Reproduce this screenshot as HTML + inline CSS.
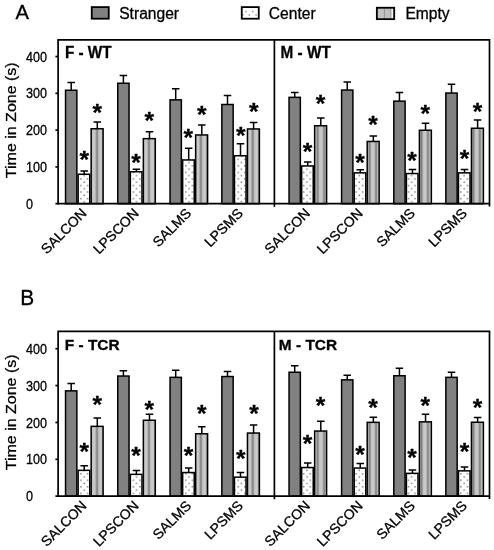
<!DOCTYPE html>
<html><head><meta charset="utf-8"><title>Figure</title>
<style>html,body{margin:0;padding:0;background:#fff}svg{display:block}text{font-family:"Liberation Sans", Arial, sans-serif;fill:#000;stroke:#000;stroke-width:0.3px;stroke-linejoin:round}</style></head><body>
<svg width="494" height="550" viewBox="0 0 494 550">
<defs>
<pattern id="dots" x="80.2" y="191.3" width="6.55" height="6.55" patternUnits="userSpaceOnUse">
<rect width="6.55" height="6.55" fill="#fff"/>
<rect x="0" y="0" width="1.5" height="1.5" fill="#848484"/>
<rect x="3.27" y="3.27" width="1.5" height="1.5" fill="#848484"/>
</pattern>
<pattern id="emp" x="-1.75" y="0" width="6.49" height="40" patternUnits="userSpaceOnUse">
<rect width="6.49" height="40" fill="#c3c3c3"/>
<rect x="0" y="0" width="2.8" height="40" fill="#aeaeae"/>
<rect x="0.45" y="0" width="1.9" height="40" fill="#909090"/>
<rect x="0.9" y="0" width="1.0" height="40" fill="#808080"/>
<rect x="4.2" y="0" width="1.2" height="40" fill="#cdcdcd"/>
</pattern>
<linearGradient id="emp2" x1="0" x2="1" y1="0" y2="0">
<stop offset="0" stop-color="#c6c6c6"/><stop offset="0.38" stop-color="#c0c0c0"/>
<stop offset="0.43" stop-color="#8c8c8c"/><stop offset="0.48" stop-color="#c0c0c0"/>
<stop offset="0.76" stop-color="#c0c0c0"/>
<stop offset="0.81" stop-color="#8c8c8c"/><stop offset="0.86" stop-color="#f0f0f0"/><stop offset="0.92" stop-color="#f0f0f0"/><stop offset="1" stop-color="#c6c6c6"/>
</linearGradient>
</defs>
<rect width="494" height="550" fill="#fff"/>
<rect x="91.75" y="7.1" width="17.0" height="11.6" fill="#818181"/>
<rect x="91.75" y="7.1" width="17.0" height="11.6" fill="none" stroke="#000" stroke-width="1.8"/>
<text transform="translate(119.20 19.20)" font-size="15.6">Stranger</text>
<rect x="241.75" y="7.1" width="17.0" height="11.6" fill="#fff"/>
<rect x="245.30" y="10.90" width="1.4" height="1.4" fill="#8c8c8c"/><rect x="252.10" y="10.90" width="1.4" height="1.4" fill="#8c8c8c"/><rect x="248.60" y="14.30" width="1.4" height="1.4" fill="#8c8c8c"/><rect x="255.40" y="14.30" width="1.4" height="1.4" fill="#8c8c8c"/><rect x="242.00" y="14.30" width="1.4" height="1.4" fill="#8c8c8c"/>
<rect x="241.75" y="7.1" width="17.0" height="11.6" fill="none" stroke="#000" stroke-width="1.8"/>
<text transform="translate(268.80 19.20)" font-size="15.6">Center</text>
<rect x="376.85" y="7.75" width="17.35" height="11.4" fill="url(#emp2)"/>
<rect x="376.85" y="7.75" width="17.35" height="11.4" fill="none" stroke="#000" stroke-width="1.8"/>
<text transform="translate(405.40 19.20)" font-size="15.6">Empty</text>
<text transform="translate(15.60 18.90) scale(0.97 1)" font-size="20.8">A</text>
<text transform="translate(20.20 305.00) scale(0.97 1)" font-size="21.6">B</text>
<path d="M71.20 90.25V82.50M67.45 82.50H74.95" stroke="#000" stroke-width="1.5" fill="none"/>
<rect x="65.55" y="90.25" width="11.30" height="113.45" fill="#818181" stroke="#000" stroke-width="1.5"/>
<path d="M84.20 174.25V171.00M80.45 171.00H87.95" stroke="#000" stroke-width="1.5" fill="none"/>
<rect x="78.15" y="174.25" width="11.60" height="29.45" fill="url(#dots)" stroke="#000" stroke-width="1.5"/>
<path d="M97.30 128.75V122.10M93.55 122.10H101.05" stroke="#000" stroke-width="1.5" fill="none"/>
<rect x="91.15" y="128.75" width="11.95" height="74.95" fill="url(#emp)" stroke="#000" stroke-width="1.5"/>
<text transform="translate(84.20 168.00)" font-size="24.5" font-weight="bold" text-anchor="middle">*</text>
<text transform="translate(97.35 121.00)" font-size="24.5" font-weight="bold" text-anchor="middle">*</text>
<path d="M123.40 83.25V75.50M119.65 75.50H127.15" stroke="#000" stroke-width="1.5" fill="none"/>
<rect x="117.75" y="83.25" width="11.30" height="120.45" fill="#818181" stroke="#000" stroke-width="1.5"/>
<path d="M136.40 171.75V169.20M132.65 169.20H140.15" stroke="#000" stroke-width="1.5" fill="none"/>
<rect x="130.35" y="171.75" width="11.60" height="31.95" fill="url(#dots)" stroke="#000" stroke-width="1.5"/>
<path d="M149.50 138.65V131.80M145.75 131.80H153.25" stroke="#000" stroke-width="1.5" fill="none"/>
<rect x="143.35" y="138.65" width="11.95" height="65.05" fill="url(#emp)" stroke="#000" stroke-width="1.5"/>
<text transform="translate(136.00 171.00)" font-size="24.5" font-weight="bold" text-anchor="middle">*</text>
<text transform="translate(149.20 129.00)" font-size="24.5" font-weight="bold" text-anchor="middle">*</text>
<path d="M175.70 99.85V88.80M171.95 88.80H179.45" stroke="#000" stroke-width="1.5" fill="none"/>
<rect x="170.05" y="99.85" width="11.30" height="103.85" fill="#818181" stroke="#000" stroke-width="1.5"/>
<path d="M188.70 159.95V148.30M184.95 148.30H192.45" stroke="#000" stroke-width="1.5" fill="none"/>
<rect x="182.65" y="159.95" width="11.60" height="43.75" fill="url(#dots)" stroke="#000" stroke-width="1.5"/>
<path d="M201.80 134.95V124.90M198.05 124.90H205.55" stroke="#000" stroke-width="1.5" fill="none"/>
<rect x="195.65" y="134.95" width="11.95" height="68.75" fill="url(#emp)" stroke="#000" stroke-width="1.5"/>
<text transform="translate(188.35 146.00)" font-size="24.5" font-weight="bold" text-anchor="middle">*</text>
<text transform="translate(201.70 123.00)" font-size="24.5" font-weight="bold" text-anchor="middle">*</text>
<path d="M227.50 104.50V95.40M223.75 95.40H231.25" stroke="#000" stroke-width="1.5" fill="none"/>
<rect x="221.85" y="104.50" width="11.30" height="99.20" fill="#818181" stroke="#000" stroke-width="1.5"/>
<path d="M240.50 155.75V143.70M236.75 143.70H244.25" stroke="#000" stroke-width="1.5" fill="none"/>
<rect x="234.45" y="155.75" width="11.60" height="47.95" fill="url(#dots)" stroke="#000" stroke-width="1.5"/>
<path d="M253.60 128.95V122.60M249.85 122.60H257.35" stroke="#000" stroke-width="1.5" fill="none"/>
<rect x="247.45" y="128.95" width="11.95" height="74.75" fill="url(#emp)" stroke="#000" stroke-width="1.5"/>
<text transform="translate(240.65 144.00)" font-size="24.5" font-weight="bold" text-anchor="middle">*</text>
<text transform="translate(253.80 120.00)" font-size="24.5" font-weight="bold" text-anchor="middle">*</text>
<path d="M294.70 97.35V92.50M290.95 92.50H298.45" stroke="#000" stroke-width="1.5" fill="none"/>
<rect x="289.05" y="97.35" width="11.30" height="106.35" fill="#818181" stroke="#000" stroke-width="1.5"/>
<path d="M307.70 165.95V161.90M303.95 161.90H311.45" stroke="#000" stroke-width="1.5" fill="none"/>
<rect x="301.65" y="165.95" width="11.60" height="37.75" fill="url(#dots)" stroke="#000" stroke-width="1.5"/>
<path d="M320.80 125.75V118.10M317.05 118.10H324.55" stroke="#000" stroke-width="1.5" fill="none"/>
<rect x="314.65" y="125.75" width="11.95" height="77.95" fill="url(#emp)" stroke="#000" stroke-width="1.5"/>
<text transform="translate(307.40 160.00)" font-size="24.5" font-weight="bold" text-anchor="middle">*</text>
<text transform="translate(320.60 112.00)" font-size="24.5" font-weight="bold" text-anchor="middle">*</text>
<path d="M347.25 90.05V81.90M343.50 81.90H351.00" stroke="#000" stroke-width="1.5" fill="none"/>
<rect x="341.60" y="90.05" width="11.30" height="113.65" fill="#818181" stroke="#000" stroke-width="1.5"/>
<path d="M360.25 172.85V169.70M356.50 169.70H364.00" stroke="#000" stroke-width="1.5" fill="none"/>
<rect x="354.20" y="172.85" width="11.60" height="30.85" fill="url(#dots)" stroke="#000" stroke-width="1.5"/>
<path d="M373.35 141.45V135.90M369.60 135.90H377.10" stroke="#000" stroke-width="1.5" fill="none"/>
<rect x="367.20" y="141.45" width="11.95" height="62.25" fill="url(#emp)" stroke="#000" stroke-width="1.5"/>
<text transform="translate(359.90 171.00)" font-size="24.5" font-weight="bold" text-anchor="middle">*</text>
<text transform="translate(372.90 133.00)" font-size="24.5" font-weight="bold" text-anchor="middle">*</text>
<path d="M399.45 101.15V92.50M395.70 92.50H403.20" stroke="#000" stroke-width="1.5" fill="none"/>
<rect x="393.80" y="101.15" width="11.30" height="102.55" fill="#818181" stroke="#000" stroke-width="1.5"/>
<path d="M412.45 173.55V169.60M408.70 169.60H416.20" stroke="#000" stroke-width="1.5" fill="none"/>
<rect x="406.40" y="173.55" width="11.60" height="30.15" fill="url(#dots)" stroke="#000" stroke-width="1.5"/>
<path d="M425.55 130.25V123.20M421.80 123.20H429.30" stroke="#000" stroke-width="1.5" fill="none"/>
<rect x="419.40" y="130.25" width="11.95" height="73.45" fill="url(#emp)" stroke="#000" stroke-width="1.5"/>
<text transform="translate(412.00 169.00)" font-size="24.5" font-weight="bold" text-anchor="middle">*</text>
<text transform="translate(425.20 122.00)" font-size="24.5" font-weight="bold" text-anchor="middle">*</text>
<path d="M451.50 93.05V84.30M447.75 84.30H455.25" stroke="#000" stroke-width="1.5" fill="none"/>
<rect x="445.85" y="93.05" width="11.30" height="110.65" fill="#818181" stroke="#000" stroke-width="1.5"/>
<path d="M464.50 172.85V169.50M460.75 169.50H468.25" stroke="#000" stroke-width="1.5" fill="none"/>
<rect x="458.45" y="172.85" width="11.60" height="30.85" fill="url(#dots)" stroke="#000" stroke-width="1.5"/>
<path d="M477.60 128.25V120.10M473.85 120.10H481.35" stroke="#000" stroke-width="1.5" fill="none"/>
<rect x="471.45" y="128.25" width="11.95" height="75.45" fill="url(#emp)" stroke="#000" stroke-width="1.5"/>
<text transform="translate(464.40 167.00)" font-size="24.5" font-weight="bold" text-anchor="middle">*</text>
<text transform="translate(477.50 120.00)" font-size="24.5" font-weight="bold" text-anchor="middle">*</text>
<path d="M58.1 203.7V39.8H489.5V205.6M274.4 39.8V205.89999999999998" stroke="#000" stroke-width="1.7" fill="none" stroke-linecap="square"/>
<path d="M55.4 203.7H489.5" stroke="#000" stroke-width="1.7" fill="none"/>
<path d="M55.4 166.91H58.1" stroke="#000" stroke-width="1.7"/>
<path d="M55.4 130.12H58.1" stroke="#000" stroke-width="1.7"/>
<path d="M55.4 93.33H58.1" stroke="#000" stroke-width="1.7"/>
<path d="M55.4 56.54H58.1" stroke="#000" stroke-width="1.7"/>
<text transform="translate(26.00 208.85) scale(0.9 1)" font-size="14.0">0</text>
<text transform="translate(47.00 172.06) scale(0.9 1)" font-size="14.0" text-anchor="end">100</text>
<text transform="translate(47.00 135.27) scale(0.9 1)" font-size="14.0" text-anchor="end">200</text>
<text transform="translate(47.00 98.48) scale(0.9 1)" font-size="14.0" text-anchor="end">300</text>
<text transform="translate(47.00 61.69) scale(0.9 1)" font-size="14.0" text-anchor="end">400</text>
<text transform="translate(16.30 120.25) rotate(-90) scale(1 0.92)" font-size="16.0" text-anchor="middle">Time in Zone (s)</text>
<text transform="translate(64.90 58.00) scale(0.94 1)" font-size="16.3" font-weight="bold">F - WT</text>
<text transform="translate(280.60 58.00) scale(0.94 1)" font-size="16.3" font-weight="bold">M - WT</text>
<text transform="translate(87.50 214.10) rotate(-45)" font-size="14.0" text-anchor="end">SALCON</text>
<text transform="translate(139.70 214.10) rotate(-45)" font-size="14.0" text-anchor="end">LPSCON</text>
<text transform="translate(192.00 214.10) rotate(-45)" font-size="14.0" text-anchor="end">SALMS</text>
<text transform="translate(243.80 214.10) rotate(-45)" font-size="14.0" text-anchor="end">LPSMS</text>
<text transform="translate(311.00 214.10) rotate(-45)" font-size="14.0" text-anchor="end">SALCON</text>
<text transform="translate(363.55 214.10) rotate(-45)" font-size="14.0" text-anchor="end">LPSCON</text>
<text transform="translate(415.75 214.10) rotate(-45)" font-size="14.0" text-anchor="end">SALMS</text>
<text transform="translate(467.80 214.10) rotate(-45)" font-size="14.0" text-anchor="end">LPSMS</text>
<path d="M71.20 390.85V383.50M67.45 383.50H74.95" stroke="#000" stroke-width="1.5" fill="none"/>
<rect x="65.55" y="390.85" width="11.30" height="105.35" fill="#818181" stroke="#000" stroke-width="1.5"/>
<path d="M84.20 470.35V465.80M80.45 465.80H87.95" stroke="#000" stroke-width="1.5" fill="none"/>
<rect x="78.15" y="470.35" width="11.60" height="25.85" fill="url(#dots)" stroke="#000" stroke-width="1.5"/>
<path d="M97.30 426.35V418.10M93.55 418.10H101.05" stroke="#000" stroke-width="1.5" fill="none"/>
<rect x="91.15" y="426.35" width="11.95" height="69.85" fill="url(#emp)" stroke="#000" stroke-width="1.5"/>
<text transform="translate(84.20 460.00)" font-size="24.5" font-weight="bold" text-anchor="middle">*</text>
<text transform="translate(97.20 413.00)" font-size="24.5" font-weight="bold" text-anchor="middle">*</text>
<path d="M123.40 376.05V370.70M119.65 370.70H127.15" stroke="#000" stroke-width="1.5" fill="none"/>
<rect x="117.75" y="376.05" width="11.30" height="120.15" fill="#818181" stroke="#000" stroke-width="1.5"/>
<path d="M136.40 474.35V470.40M132.65 470.40H140.15" stroke="#000" stroke-width="1.5" fill="none"/>
<rect x="130.35" y="474.35" width="11.60" height="21.85" fill="url(#dots)" stroke="#000" stroke-width="1.5"/>
<path d="M149.50 420.25V414.20M145.75 414.20H153.25" stroke="#000" stroke-width="1.5" fill="none"/>
<rect x="143.35" y="420.25" width="11.95" height="75.95" fill="url(#emp)" stroke="#000" stroke-width="1.5"/>
<text transform="translate(135.90 464.00)" font-size="24.5" font-weight="bold" text-anchor="middle">*</text>
<text transform="translate(149.20 418.00)" font-size="24.5" font-weight="bold" text-anchor="middle">*</text>
<path d="M175.70 377.35V370.20M171.95 370.20H179.45" stroke="#000" stroke-width="1.5" fill="none"/>
<rect x="170.05" y="377.35" width="11.30" height="118.85" fill="#818181" stroke="#000" stroke-width="1.5"/>
<path d="M188.70 472.55V468.00M184.95 468.00H192.45" stroke="#000" stroke-width="1.5" fill="none"/>
<rect x="182.65" y="472.55" width="11.60" height="23.65" fill="url(#dots)" stroke="#000" stroke-width="1.5"/>
<path d="M201.80 433.75V426.70M198.05 426.70H205.55" stroke="#000" stroke-width="1.5" fill="none"/>
<rect x="195.65" y="433.75" width="11.95" height="62.45" fill="url(#emp)" stroke="#000" stroke-width="1.5"/>
<text transform="translate(188.50 464.00)" font-size="24.5" font-weight="bold" text-anchor="middle">*</text>
<text transform="translate(201.80 422.00)" font-size="24.5" font-weight="bold" text-anchor="middle">*</text>
<path d="M227.50 376.55V371.50M223.75 371.50H231.25" stroke="#000" stroke-width="1.5" fill="none"/>
<rect x="221.85" y="376.55" width="11.30" height="119.65" fill="#818181" stroke="#000" stroke-width="1.5"/>
<path d="M240.50 477.15V472.50M236.75 472.50H244.25" stroke="#000" stroke-width="1.5" fill="none"/>
<rect x="234.45" y="477.15" width="11.60" height="19.05" fill="url(#dots)" stroke="#000" stroke-width="1.5"/>
<path d="M253.60 433.05V424.90M249.85 424.90H257.35" stroke="#000" stroke-width="1.5" fill="none"/>
<rect x="247.45" y="433.05" width="11.95" height="63.15" fill="url(#emp)" stroke="#000" stroke-width="1.5"/>
<text transform="translate(240.80 467.00)" font-size="24.5" font-weight="bold" text-anchor="middle">*</text>
<text transform="translate(254.10 422.00)" font-size="24.5" font-weight="bold" text-anchor="middle">*</text>
<path d="M294.70 372.25V365.70M290.95 365.70H298.45" stroke="#000" stroke-width="1.5" fill="none"/>
<rect x="289.05" y="372.25" width="11.30" height="123.95" fill="#818181" stroke="#000" stroke-width="1.5"/>
<path d="M307.70 467.55V463.10M303.95 463.10H311.45" stroke="#000" stroke-width="1.5" fill="none"/>
<rect x="301.65" y="467.55" width="11.60" height="28.65" fill="url(#dots)" stroke="#000" stroke-width="1.5"/>
<path d="M320.80 431.05V421.20M317.05 421.20H324.55" stroke="#000" stroke-width="1.5" fill="none"/>
<rect x="314.65" y="431.05" width="11.95" height="65.15" fill="url(#emp)" stroke="#000" stroke-width="1.5"/>
<text transform="translate(307.40 452.00)" font-size="24.5" font-weight="bold" text-anchor="middle">*</text>
<text transform="translate(320.60 414.00)" font-size="24.5" font-weight="bold" text-anchor="middle">*</text>
<path d="M347.25 379.85V375.20M343.50 375.20H351.00" stroke="#000" stroke-width="1.5" fill="none"/>
<rect x="341.60" y="379.85" width="11.30" height="116.35" fill="#818181" stroke="#000" stroke-width="1.5"/>
<path d="M360.25 468.05V463.60M356.50 463.60H364.00" stroke="#000" stroke-width="1.5" fill="none"/>
<rect x="354.20" y="468.05" width="11.60" height="28.15" fill="url(#dots)" stroke="#000" stroke-width="1.5"/>
<path d="M373.35 422.35V417.20M369.60 417.20H377.10" stroke="#000" stroke-width="1.5" fill="none"/>
<rect x="367.20" y="422.35" width="11.95" height="73.85" fill="url(#emp)" stroke="#000" stroke-width="1.5"/>
<text transform="translate(359.90 463.00)" font-size="24.5" font-weight="bold" text-anchor="middle">*</text>
<text transform="translate(372.90 416.00)" font-size="24.5" font-weight="bold" text-anchor="middle">*</text>
<path d="M399.45 375.75V368.20M395.70 368.20H403.20" stroke="#000" stroke-width="1.5" fill="none"/>
<rect x="393.80" y="375.75" width="11.30" height="120.45" fill="#818181" stroke="#000" stroke-width="1.5"/>
<path d="M412.45 473.35V470.00M408.70 470.00H416.20" stroke="#000" stroke-width="1.5" fill="none"/>
<rect x="406.40" y="473.35" width="11.60" height="22.85" fill="url(#dots)" stroke="#000" stroke-width="1.5"/>
<path d="M425.55 421.85V414.30M421.80 414.30H429.30" stroke="#000" stroke-width="1.5" fill="none"/>
<rect x="419.40" y="421.85" width="11.95" height="74.35" fill="url(#emp)" stroke="#000" stroke-width="1.5"/>
<text transform="translate(412.00 466.00)" font-size="24.5" font-weight="bold" text-anchor="middle">*</text>
<text transform="translate(425.20 414.00)" font-size="24.5" font-weight="bold" text-anchor="middle">*</text>
<path d="M451.50 377.35V372.20M447.75 372.20H455.25" stroke="#000" stroke-width="1.5" fill="none"/>
<rect x="445.85" y="377.35" width="11.30" height="118.85" fill="#818181" stroke="#000" stroke-width="1.5"/>
<path d="M464.50 470.85V467.00M460.75 467.00H468.25" stroke="#000" stroke-width="1.5" fill="none"/>
<rect x="458.45" y="470.85" width="11.60" height="25.35" fill="url(#dots)" stroke="#000" stroke-width="1.5"/>
<path d="M477.60 422.25V417.40M473.85 417.40H481.35" stroke="#000" stroke-width="1.5" fill="none"/>
<rect x="471.45" y="422.25" width="11.95" height="73.95" fill="url(#emp)" stroke="#000" stroke-width="1.5"/>
<text transform="translate(464.40 460.00)" font-size="24.5" font-weight="bold" text-anchor="middle">*</text>
<text transform="translate(477.50 416.00)" font-size="24.5" font-weight="bold" text-anchor="middle">*</text>
<path d="M58.1 496.2V331.45H489.5V498.09999999999997M274.4 331.45V498.4" stroke="#000" stroke-width="1.7" fill="none" stroke-linecap="square"/>
<path d="M55.4 496.2H489.5" stroke="#000" stroke-width="1.7" fill="none"/>
<path d="M55.4 459.32H58.1" stroke="#000" stroke-width="1.7"/>
<path d="M55.4 422.45H58.1" stroke="#000" stroke-width="1.7"/>
<path d="M55.4 385.57H58.1" stroke="#000" stroke-width="1.7"/>
<path d="M55.4 348.70H58.1" stroke="#000" stroke-width="1.7"/>
<text transform="translate(26.00 501.35) scale(0.9 1)" font-size="14.0">0</text>
<text transform="translate(47.00 464.47) scale(0.9 1)" font-size="14.0" text-anchor="end">100</text>
<text transform="translate(47.00 427.60) scale(0.9 1)" font-size="14.0" text-anchor="end">200</text>
<text transform="translate(47.00 390.72) scale(0.9 1)" font-size="14.0" text-anchor="end">300</text>
<text transform="translate(47.00 353.85) scale(0.9 1)" font-size="14.0" text-anchor="end">400</text>
<text transform="translate(16.30 412.32) rotate(-90) scale(1 0.92)" font-size="16.0" text-anchor="middle">Time in Zone (s)</text>
<text transform="translate(64.80 350.00) scale(1.01 1)" font-size="15.3" font-weight="bold">F - TCR</text>
<text transform="translate(278.80 350.00) scale(1.01 1)" font-size="15.3" font-weight="bold">M - TCR</text>
<text transform="translate(87.50 506.60) rotate(-45)" font-size="14.0" text-anchor="end">SALCON</text>
<text transform="translate(139.70 506.60) rotate(-45)" font-size="14.0" text-anchor="end">LPSCON</text>
<text transform="translate(192.00 506.60) rotate(-45)" font-size="14.0" text-anchor="end">SALMS</text>
<text transform="translate(243.80 506.60) rotate(-45)" font-size="14.0" text-anchor="end">LPSMS</text>
<text transform="translate(311.00 506.60) rotate(-45)" font-size="14.0" text-anchor="end">SALCON</text>
<text transform="translate(363.55 506.60) rotate(-45)" font-size="14.0" text-anchor="end">LPSCON</text>
<text transform="translate(415.75 506.60) rotate(-45)" font-size="14.0" text-anchor="end">SALMS</text>
<text transform="translate(467.80 506.60) rotate(-45)" font-size="14.0" text-anchor="end">LPSMS</text>
</svg></body></html>
